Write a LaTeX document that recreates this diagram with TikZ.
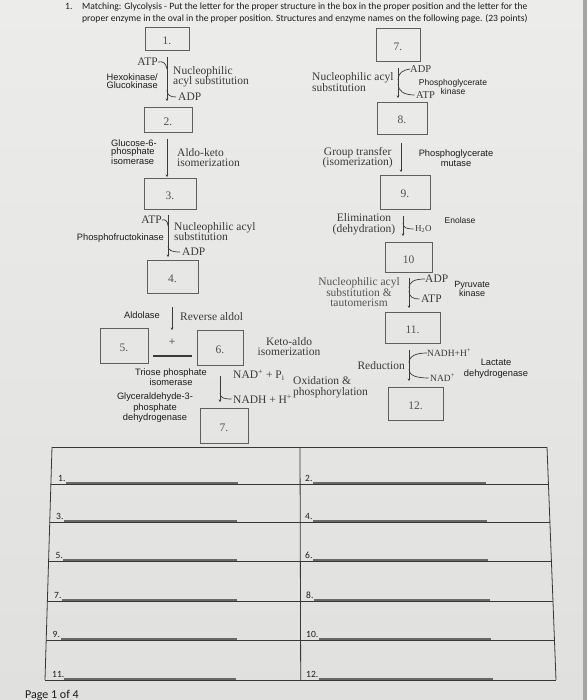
\documentclass[tikz,border=0pt]{standalone}
\usepackage{fontspec}
\setmainfont{Liberation Serif}
\newfontfamily\arialf{Liberation Sans}
\newfontfamily\calf{Carlito}
\usetikzlibrary{arrows.meta}
\definecolor{papertop}{RGB}{236,236,234}
\definecolor{paperbot}{RGB}{224,224,222}
\definecolor{ink}{RGB}{58,58,58}
\definecolor{lightink}{RGB}{85,85,85}
\definecolor{sink}{RGB}{28,28,28}
\definecolor{boxc}{RGB}{95,95,95}
\definecolor{numc}{RGB}{80,80,80}
\definecolor{tabc}{RGB}{55,55,55}
\definecolor{ulc}{RGB}{105,105,105}
\definecolor{edgec}{RGB}{165,165,165}
\begin{document}
\begin{tikzpicture}[x=1pt,y=-1pt,
  sbox/.style={draw=boxc, line width=0.9pt, inner sep=0pt, text height=12pt, text depth=0pt, font=\fontsize{11.5}{11}\selectfont, text=numc},
  mech/.style={inner sep=0pt, text=ink, font=\fontsize{11.5}{10.5}\selectfont},
  enz/.style={inner sep=0pt, text=sink, font=\arialf\fontsize{9.3}{8.5}\selectfont},
  cof/.style={inner sep=0pt, text=ink, font=\fontsize{11.5}{11}\selectfont},
  scof/.style={inner sep=0pt, text=ink, font=\fontsize{9.5}{9.5}\selectfont},
  rxn/.style={draw=ink, line width=0.8pt, -{Stealth[length=2.5pt,width=2.5pt]}},
  hookl/.style={draw=ink, line width=0.7pt},
  ttl/.style={inner sep=0pt, text=sink, font=\calf\fontsize{9.6}{11}\selectfont},
  tlab/.style={inner sep=0pt, text=sink, font=\calf\fontsize{9.5}{9.5}\selectfont},
  uline/.style={draw=ulc, line width=1.7pt},
  tline/.style={draw=tabc, line width=0.8pt}
]
\useasboundingbox (0,0) rectangle (587,700);
\shade[top color=papertop, bottom color=paperbot] (0,0) rectangle (587,700);
\fill[edgec] (583,0) rectangle (587,700);

% title
\node[ttl, anchor=base west] (tnum) at (65,10) {1.};
\node[ttl, anchor=base west] (t1) at (82,10) {Matching: Glycolysis - Put the letter for the proper structure in the box in the proper position and the letter for the};
\node[ttl, anchor=base west] (t2) at (82,21.5) {proper enzyme in the oval in the proper position. Structures and enzyme names on the following page. (23 points)};

% boxes
\node[sbox, minimum width=44pt, minimum height=23pt] (b1) at (167,38.5) {1.};
\node[sbox, minimum width=48pt, minimum height=25pt] (b2) at (168,119.5) {2.};
\node[sbox, minimum width=52pt, minimum height=31pt] (b3) at (170,193.5) {3.};
\node[sbox, minimum width=51pt, minimum height=33pt] (b4) at (172.5,276.5) {4.};
\node[sbox, minimum width=48pt, minimum height=35pt] (b5) at (124,345.5) {5.};
\node[sbox, minimum width=46pt, minimum height=35pt] (b6) at (220,347.5) {6.};
\node[sbox, minimum width=48pt, minimum height=35pt] (b7) at (224,425.5) {7.};
\node[sbox, minimum width=44pt, minimum height=33pt] (b7r) at (398,44.5) {7.};
\node[sbox, minimum width=50pt, minimum height=32pt] (b8) at (402,118) {8.};
\node[sbox, minimum width=50pt, minimum height=34pt] (b9) at (405,192) {9.};
\node[sbox, minimum width=47pt, minimum height=30pt] (b10) at (408.5,257) {10};
\node[sbox, minimum width=55pt, minimum height=31pt] (b11) at (412.5,327.5) {11.};
\node[sbox, minimum width=55pt, minimum height=33pt] (b12) at (415.5,403.5) {12.};

% step 1
\coordinate (l1t) at (167,57); \coordinate (l1b) at (167,101);
\coordinate (l1h) at (167,69); \coordinate (l1k) at (167,90);
\draw[rxn] (l1t) -- (l1b);
\node[cof, anchor=east] (atp1) at (158,62) {ATP};
\draw[hookl] (atp1.east) .. controls (163,61) and (166,63) .. (l1h);
\node[cof, anchor=west] (adp1) at (178,97) {ADP};
\draw[hookl, shorten >=2pt] (l1k) .. controls (167,95) and (170,97) .. (adp1.west);
\node[enz, anchor=east, align=left] (e1) at (158,81) {Hexokinase/\\Glucokinase};
\node[mech, anchor=west, align=left] (m1) at (173,77) {Nucleophilic\\acyl substitution};

% step 2
\coordinate (l2t) at (167,139); \coordinate (l2b) at (167,177);
\draw[rxn] (l2t) -- (l2b);
\node[enz, anchor=west, align=left, font=\arialf\fontsize{9.3}{8}\selectfont] (e2) at (111,152) {Glucose-6-\\phosphate\\isomerase};
\node[mech, anchor=west, align=left] (m2) at (177,157.5) {Aldo-keto\\isomerization};

% step 3
\coordinate (l3t) at (168,215); \coordinate (l3b) at (168,257);
\coordinate (l3h) at (168,226); \coordinate (l3k) at (168,246);
\draw[rxn] (l3t) -- (l3b);
\node[cof, anchor=east] (atp3) at (162,220) {ATP};
\draw[hookl] (atp3.east) .. controls (165,219) and (168,221) .. (l3h);
\node[cof, anchor=west] (adp3) at (182,252) {ADP};
\draw[hookl, shorten >=2pt] (l3k) .. controls (168,250) and (171,252) .. (adp3.west);
\node[mech, anchor=west, align=left] (m3) at (174,231.5) {Nucleophilic acyl\\substitution};
\node[enz, anchor=east] (e3) at (164,238) {Phosphofructokinase};

% step 4
\coordinate (l4t) at (172,307); \coordinate (l4b) at (172,330);
\draw[rxn] (l4t) -- (l4b);
\node[enz, anchor=east] (e4) at (160,315) {Aldolase};
\node[mech, anchor=west] (m4) at (180,317) {Reverse aldol};
\node[cof] (plus) at (172,342) {+};
\coordinate (h1) at (153,356); \coordinate (h2) at (192,356);
\draw[draw=ink, line width=1.2pt] (h1) -- (h2);
\node[enz, align=center, font=\arialf\fontsize{9.3}{10}\selectfont] (e5) at (171,377) {Triose phosphate\\isomerase};
\node[mech, align=center] (m5) at (289,346.5) {Keto-aldo\\isomerization};

% step 6
\coordinate (l6t) at (220,376); \coordinate (l6b) at (220,402);
\coordinate (l6k) at (220,393);
\draw[rxn] (l6t) -- (l6b);
\node[cof, anchor=west] (nad1) at (233,375) {NAD\textsuperscript{+} + P\textsubscript{i}};
\node[cof, anchor=west] (nadh1) at (233,399) {NADH + H\textsuperscript{+}};
\draw[hookl, shorten >=1.5pt] (l6k) .. controls (220,398) and (224,399) .. (nadh1.west);
\node[mech, anchor=west, align=left] (m6) at (293,387) {Oxidation \&\\phosphorylation};
\node[enz, align=center, font=\arialf\fontsize{9.3}{10.5}\selectfont] (e6) at (155,408) {Glyceraldehyde-3-\\phosphate\\dehydrogenase};

% step 7
\coordinate (r1t) at (398,68); \coordinate (r1b) at (398,98);
\coordinate (r1h) at (398,80); \coordinate (r1k) at (398,84);
\draw[rxn] (r1t) -- (r1b);
\node[cof, anchor=west, font=\fontsize{10.5}{10.5}\selectfont] (adp7) at (410,69) {ADP};
\draw[hookl] (adp7.west) .. controls (403,70) and (398,73) .. (r1h);
\node[cof, anchor=west, font=\fontsize{10.5}{10.5}\selectfont] (atp7) at (416,95) {ATP};
\draw[hookl, shorten >=1.5pt] (r1k) .. controls (398,91) and (404,95) .. (atp7.west);
\node[mech, anchor=west, align=left] (m7) at (312,82) {Nucleophilic acyl\\substitution};
\node[enz, align=center, font=\arialf\fontsize{8.5}{9}\selectfont] (e7) at (453,86.5) {Phosphoglycerate\\kinase};

% step 8
\coordinate (r2t) at (401,143); \coordinate (r2b) at (401,172);
\draw[rxn] (r2t) -- (r2b);
\node[mech, anchor=east, align=center] (m8) at (393,157.5) {Group transfer\\(isomerization)};
\node[enz, align=center, font=\arialf\fontsize{9.3}{10}\selectfont] (e8) at (456,158) {Phosphoglycerate\\mutase};

% step 9
\coordinate (r3t) at (403,216); \coordinate (r3b) at (403,236);
\coordinate (r3k) at (403,223);
\draw[rxn] (r3t) -- (r3b);
\node[mech, align=center] (m9) at (364,224.5) {Elimination\\(dehydration)};
\node[scof, anchor=west, font=\fontsize{9}{9}\selectfont] (h2o) at (415,229) {H\textsubscript{2}O};
\draw[hookl, shorten >=1.5pt] (r3k) .. controls (403,228) and (407,229) .. (h2o.west);
\node[enz, font=\arialf\fontsize{8.5}{8.5}\selectfont] (e9) at (460,220) {Enolase};

% step 10
\coordinate (r4t) at (409,278); \coordinate (r4b) at (409,308);
\coordinate (r4h) at (409,288); \coordinate (r4k) at (409,291);
\draw[rxn] (r4t) -- (r4b);
\node[cof, anchor=west] (adp10) at (425,279) {ADP};
\draw[hookl] (adp10.west) .. controls (414,279) and (409,282) .. (r4h);
\node[cof, anchor=west] (atp10) at (421,299) {ATP};
\draw[hookl, shorten >=1.5pt] (r4k) .. controls (409,297) and (413,299) .. (atp10.west);
\node[mech, align=center, text=lightink] (m10) at (359,292.5) {Nucleophilic acyl\\substitution \&\\tautomerism};
\node[enz, align=center, font=\arialf\fontsize{9}{8.5}\selectfont] (e10) at (472,289) {Pyruvate\\kinase};

% step 11
\coordinate (r5t) at (409,350); \coordinate (r5b) at (409,381);
\coordinate (r5h) at (409,363); \coordinate (r5k) at (409,369);
\draw[rxn] (r5t) -- (r5b);
\node[scof, anchor=west] (nadh11) at (427,353) {NADH+H\textsuperscript{+}};
\draw[hookl] (nadh11.west) .. controls (416,353) and (409,356) .. (r5h);
\node[scof, anchor=west] (nad11) at (430,378) {NAD\textsuperscript{+}};
\draw[hookl, shorten >=1.5pt] (r5k) .. controls (409,375) and (415,378) .. (nad11.west);
\node[mech, anchor=east] (m11) at (405,366) {Reduction};
\node[enz, align=center, font=\arialf\fontsize{9.3}{11}\selectfont] (e11) at (496,368.5) {Lactate\\dehydrogenase};

% table
\draw[tline] (52,447) -- (547,447);
\draw[tline] (50.9,484) -- (548.4,484);
\draw[tline] (49.7,522) -- (549.9,522);
\draw[tline] (48.6,561) -- (551.4,561);
\draw[tline] (47.4,601) -- (552.9,601);
\draw[tline] (46.2,640) -- (554.5,640);
\draw[tline] (45,680) -- (556,680);
\draw[tline] (52,447) -- (45,680);
\draw[tline] (547,447) -- (556,680);
\draw[tline] (300,447) -- (300.7,680);
\foreach \y/\lx/\ls/\le/\ll/\rx/\rs/\re/\rl in {
  484/58/65.5/238/1./305/313/486/2.,
  522/56/64/237/3./305/313/487/4.,
  561/55.5/63/237/5./305/313/488/6.,
  601/54/62/237/7./306/313.5/489.5/8.,
  640/52.5/61/237/9./306/319/491/10.,
  680/52/64/236/11./306/319/492.5/12.}{
  \draw[uline] (\ls,\y-1.3) -- (\le,\y-1.3);
  \draw[uline] (\rs,\y-1.3) -- (\re,\y-1.3);
  \node[tlab, anchor=base west] at (\lx,\y-2.5) {\ll};
  \node[tlab, anchor=base west] at (\rx,\y-2.5) {\rl};
}
\node[inner sep=0pt, anchor=base west, text=sink, font=\calf\fontsize{12}{12}\selectfont] (page) at (25,698) {Page 1 of 4};
\end{tikzpicture}
\end{document}
